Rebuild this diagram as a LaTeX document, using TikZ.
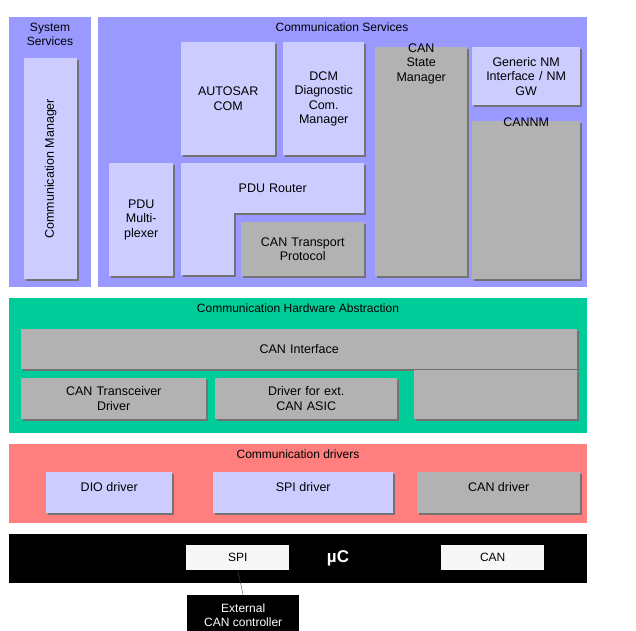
\documentclass[tikz,border=0pt]{standalone}
\usepackage{fontspec}
\setmainfont{Liberation Sans}
\definecolor{lav}{HTML}{9999FF}
\definecolor{lightlav}{HTML}{CCCCFF}
\definecolor{swgray}{HTML}{B2B2B2}
\definecolor{hwgreen}{HTML}{00CC99}
\definecolor{drvred}{HTML}{FF7F7F}
\tikzset{
  area/.style={fill=#1, draw=none, inner sep=0pt, anchor=north west},
  box/.style={fill=#1, draw=none, inner sep=1pt, anchor=north west, align=center,
    preaction={fill=black!55, transform canvas={xshift=1.3pt,yshift=-1.3pt}}},
  title/.style={anchor=north, inner sep=0pt, font=\fontsize{12}{14}\selectfont}
}
% box macro: name, x, y, width, height, colour, text
\newcommand{\bx}[7]{\node[box=#6, minimum width=#4, minimum height=#5, text width=#4-4pt] (#1) at (#2,#3) {#7};}
\begin{document}
\begin{tikzpicture}[x=1pt,y=-1pt, font=\fontsize{12.5}{14.5}\selectfont]
\useasboundingbox (0,0) rectangle (636,630);

%service layer
\node[area=lav, minimum width=82, minimum height=270] (sys) at (9,17) {};
\node[title, align=center] at (50,23) {System\\Services};
\node[area=lav, minimum width=489, minimum height=270] (com) at (98,17) {};
\node[title] at (342,23) {Communication Services};
\bx{cm}{24}{58}{53}{221}{lightlav}{}
\node[rotate=90] at (cm.center) {Communication Manager};
\bx{acom}{181}{42}{94}{113}{lightlav}{AUTOSAR\\COM}
\bx{dcm}{283}{42}{81}{113}{lightlav}{DCM\\Diagnostic\\Com.\\Manager}
\bx{cansm}{375}{47}{92}{229}{swgray}{}
\node[anchor=north, align=center] at ([yshift=7]cansm.north) {CAN\\State\\Manager};
\bx{gnm}{472}{47}{108}{58}{lightlav}{Generic NM\\Interface / NM\\GW}
\bx{cannm}{472}{121}{108}{158}{swgray}{}
\node[anchor=north] at ([yshift=7]cannm.north) {CANNM};
\bx{pdur}{181}{163}{183}{50}{lightlav}{PDU Router}
\bx{pdux}{181}{213}{53}{62}{lightlav}{}
\node[area=lightlav, minimum width=50, minimum height=6] at (182,210) {};
\bx{pdum}{109}{163}{64}{113}{lightlav}{PDU\\Multi-\\plexer}
\bx{cantp}{241}{222}{123}{54}{swgray}{CAN Transport\\Protocol}

%hardware abstraction
\node[area=hwgreen, minimum width=578, minimum height=135] (hwa) at (9,298) {};
\node[title] at (298,304) {Communication Hardware Abstraction};
\bx{canif}{21}{329}{556}{40}{swgray}{CAN Interface}
\bx{cantrv}{21}{378}{185}{41}{swgray}{CAN Transceiver\\Driver}
\bx{asic}{215}{378}{182}{41}{swgray}{Driver for ext.\\CAN ASIC}
\bx{hwx}{414}{370}{163}{49}{swgray}{}

%drivers
\node[area=drvred, minimum width=578, minimum height=79] (drv) at (9,444) {};
\node[title] at (298,450) {Communication drivers};
\bx{dio}{46}{472}{126}{41}{lightlav}{}
\node[anchor=north] at ([yshift=-7]dio.north) {DIO driver};
\bx{spid}{213}{472}{180}{41}{lightlav}{}
\node[anchor=north] at ([yshift=-7]spid.north) {SPI driver};
\bx{cand}{417}{472}{163}{41}{swgray}{}
\node[anchor=north] at ([yshift=-7]cand.north) {CAN driver};

%micro controller
\node[area=black, minimum width=578, minimum height=49] (uc) at (9,534) {};
\node[white, font=\fontsize{17}{19}\selectfont\bfseries] at (338,558) {µC};
\node[area=black!3, minimum width=103, minimum height=25, font=\fontsize{12}{14}\selectfont] (spi) at (186,545) {SPI};
\node[area=black!3, minimum width=103, minimum height=25, font=\fontsize{12}{14}\selectfont] (can) at (441,545) {CAN};
\node[area=black, minimum width=112, minimum height=40, text=white, align=center, font=\fontsize{12}{14}\selectfont] (ext) at (187,595) {External\\CAN controller};
\draw[black!70] (spi.south) -- (ext.north);
\end{tikzpicture}
\end{document}
